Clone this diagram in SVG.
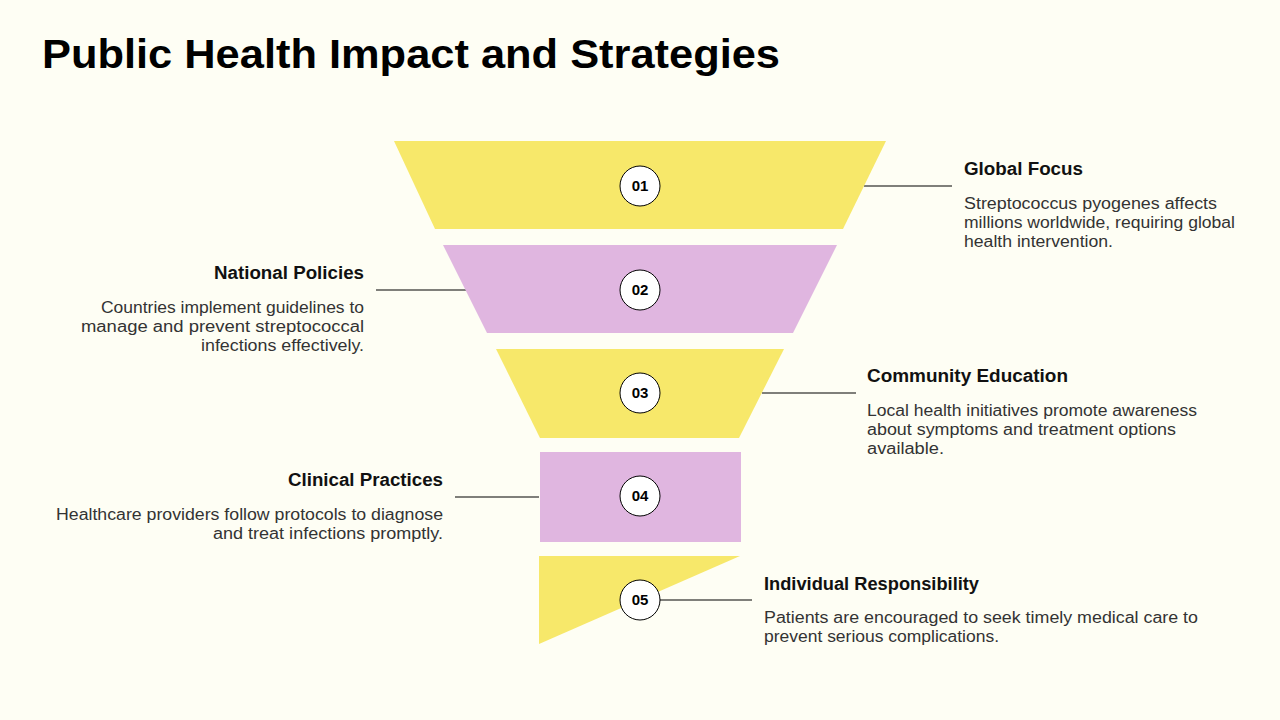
<svg xmlns="http://www.w3.org/2000/svg" width="1280" height="720" viewBox="0 0 1280 720">
<style>
.title{font-family:"Liberation Sans",Arial,sans-serif;font-weight:bold;font-size:41px;fill:#000}
.h{font-family:"Liberation Sans",Arial,sans-serif;font-weight:bold;font-size:18px;fill:#111}
.b{font-family:"Liberation Sans",Arial,sans-serif;font-size:16px;fill:#333}
.r{text-anchor:end}
.y{fill:#F7E86A}
.p{fill:#E0B6E0}
.c{fill:#fff;stroke:#000;stroke-width:1}
.n{font-family:"Liberation Sans",Arial,sans-serif;font-weight:bold;font-size:15px;fill:#000;text-anchor:middle}
.ln{stroke:#000;stroke-width:1}
</style>
<rect width="1280" height="720" fill="#FEFEF4"/>
<text class="title" x="42" y="68" textLength="738" lengthAdjust="spacingAndGlyphs">Public Health Impact and Strategies</text>
<g id="connectors">
<line class="ln" x1="864" y1="186" x2="952" y2="186"/>
<line class="ln" x1="376" y1="290" x2="466" y2="290"/>
<line class="ln" x1="762" y1="393" x2="856" y2="393"/>
<line class="ln" x1="455" y1="497" x2="539" y2="497"/>
<line class="ln" x1="660" y1="600" x2="752" y2="600"/>
</g>
<g id="layer1">
<polygon class="y" points="394,141 886,141 843,229 435,229"/>
<circle class="c" cx="640" cy="186" r="20"/>
<text class="n" x="640" y="191">01</text>
</g>
<g id="layer2">
<polygon class="p" points="443,245 837,245 793,333 487,333"/>
<circle class="c" cx="640" cy="290" r="20"/>
<text class="n" x="640" y="295">02</text>
</g>
<g id="layer3">
<polygon class="y" points="496,349 784,349 739,438 540,438"/>
<circle class="c" cx="640" cy="393" r="20"/>
<text class="n" x="640" y="398">03</text>
</g>
<g id="layer4">
<rect class="p" x="540" y="452" width="201" height="90"/>
<circle class="c" cx="640" cy="496" r="20"/>
<text class="n" x="640" y="501">04</text>
</g>
<g id="layer5">
<polygon class="y" points="539,556 740,556 539,644"/>
<circle class="c" cx="640" cy="600" r="20"/>
<text class="n" x="640" y="605">05</text>
</g>
<g id="label1">
<text class="h" x="964" y="175" textLength="119" lengthAdjust="spacingAndGlyphs">Global Focus</text>
<text class="b" x="964" y="209" textLength="253" lengthAdjust="spacingAndGlyphs">Streptococcus pyogenes affects</text>
<text class="b" x="964" y="228" textLength="271" lengthAdjust="spacingAndGlyphs">millions worldwide, requiring global</text>
<text class="b" x="964" y="247" textLength="149" lengthAdjust="spacingAndGlyphs">health intervention.</text>
</g>
<g id="label2">
<text class="h r" x="364" y="279" textLength="150" lengthAdjust="spacingAndGlyphs">National Policies</text>
<text class="b r" x="364" y="313" textLength="263" lengthAdjust="spacingAndGlyphs">Countries implement guidelines to</text>
<text class="b r" x="364" y="332" textLength="283" lengthAdjust="spacingAndGlyphs">manage and prevent streptococcal</text>
<text class="b r" x="364" y="351" textLength="163" lengthAdjust="spacingAndGlyphs">infections effectively.</text>
</g>
<g id="label3">
<text class="h" x="867" y="382" textLength="201" lengthAdjust="spacingAndGlyphs">Community Education</text>
<text class="b" x="867" y="416" textLength="330" lengthAdjust="spacingAndGlyphs">Local health initiatives promote awareness</text>
<text class="b" x="867" y="435" textLength="309" lengthAdjust="spacingAndGlyphs">about symptoms and treatment options</text>
<text class="b" x="867" y="454" textLength="77" lengthAdjust="spacingAndGlyphs">available.</text>
</g>
<g id="label4">
<text class="h r" x="443" y="486" textLength="155" lengthAdjust="spacingAndGlyphs">Clinical Practices</text>
<text class="b r" x="443" y="520" textLength="387" lengthAdjust="spacingAndGlyphs">Healthcare providers follow protocols to diagnose</text>
<text class="b r" x="443" y="539" textLength="230" lengthAdjust="spacingAndGlyphs">and treat infections promptly.</text>
</g>
<g id="label5">
<text class="h" x="764" y="590" textLength="215" lengthAdjust="spacingAndGlyphs">Individual Responsibility</text>
<text class="b" x="764" y="623" textLength="434" lengthAdjust="spacingAndGlyphs">Patients are encouraged to seek timely medical care to</text>
<text class="b" x="764" y="642" textLength="235" lengthAdjust="spacingAndGlyphs">prevent serious complications.</text>
</g>
</svg>
